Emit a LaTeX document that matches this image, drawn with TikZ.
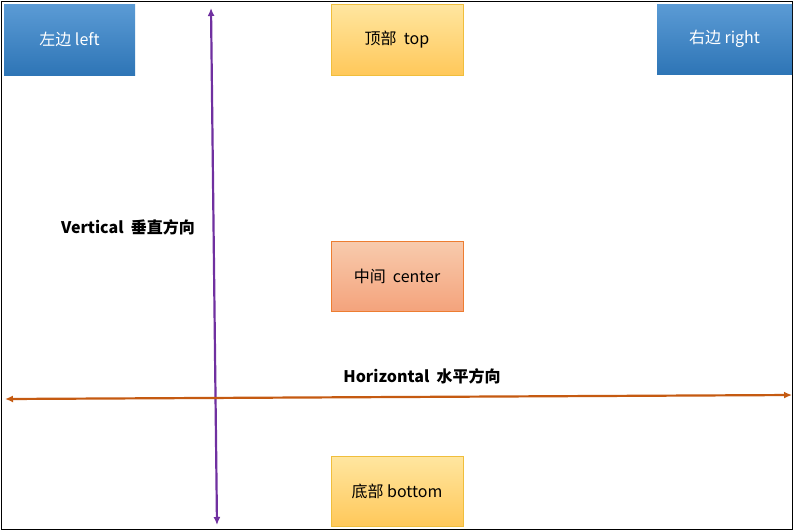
\documentclass[tikz,border=0pt]{standalone}
\usepackage{fontspec}
\usetikzlibrary{arrows.meta}
\setmainfont{Noto Sans CJK SC}
\begin{document}
\begin{tikzpicture}[x=1pt,y=-1pt,
  bluebox/.style={draw=none,top color={rgb,255:red,91;green,155;blue,213},bottom color={rgb,255:red,46;green,117;blue,182}},
  orgbox/.style={draw={rgb,255:red,240;green,190;blue,60},top color={rgb,255:red,255;green,230;blue,160},bottom color={rgb,255:red,255;green,200;blue,90}},
  salbox/.style={draw={rgb,255:red,237;green,125;blue,49},top color={rgb,255:red,248;green,203;blue,173},bottom color={rgb,255:red,244;green,163;blue,124}},
  txt/.style={font=\fontsize{16}{18}\selectfont},
  lbl/.style={font=\bfseries\fontsize{16}{18}\selectfont},
  arr/.style={line width=2.2pt,{Latex[length=8pt,width=7pt]}-{Latex[length=8pt,width=7pt]}}]
\useasboundingbox (0,0) rectangle (794,531);
\fill[white] (0,0) rectangle (794,531);
\draw[black,line width=1.2pt] (1.5,1.5) rectangle (792.5,529.5);
\path[bluebox] (4,4) rectangle (135,75);
\node[txt,text=white] (l) at (69.5,39.5) {左边 left};
\path[orgbox] (331,4) rectangle (463,75);
\node[txt] (t) at (397,39.5) {顶部\ \ top};
\path[bluebox] (657,4) rectangle (792,74);
\node[txt,text=white] (r) at (724.5,39) {右边 right};
\path[salbox] (331,241) rectangle (463,311);
\node[txt] (c) at (397,276) {中间\ \ center};
\path[orgbox] (331,456) rectangle (463,526);
\node[txt] (b) at (397,491) {底部 bottom};
\coordinate (vt) at (211,8);
\coordinate (vb) at (217,525);
\coordinate (hl) at (5,399);
\coordinate (hr) at (792,395);
\draw[arr,color={rgb,255:red,112;green,48;blue,160}] (vt) -- (vb);
\draw[arr,color={rgb,255:red,197;green,90;blue,17}] (hl) -- (hr);
\node[lbl] (vl) at (128,227) {Vertical\ \ 垂直方向};
\node[lbl] (hlb) at (422,376) {Horizontal\ \ 水平方向};
\end{tikzpicture}
\end{document}
